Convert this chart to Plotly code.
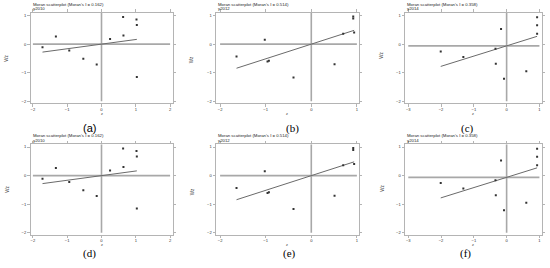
import plotly.graph_objects as go

W, H = 550, 268

# ---- data ----
years = ["y2010", "y2012", "y2014"]
morans_i = [0.162, 0.514, 0.358]

z_2010 = [0.63, 1.02, 1.03, 0.64, 0.25, -1.33, -1.72, -0.94, -0.53, -0.14, 1.03]
wz_2010 = [0.95, 0.86, 0.67, 0.30, 0.18, 0.27, -0.11, -0.22, -0.51, -0.71, -1.15]

z_2012 = [0.92, 0.92, 0.70, 0.94, -1.02, -1.64, -0.96, -0.93, 0.51, -0.39]
wz_2012 = [0.97, 0.90, 0.36, 0.41, 0.15, -0.43, -0.61, -0.58, -0.70, -1.17]

z_2014 = [0.93, 0.93, 0.93, -0.17, -2.01, -1.32, -0.34, -0.33, 0.60, -0.08]
wz_2014 = [0.94, 0.66, 0.36, 0.53, -0.26, -0.45, -0.16, -0.69, -0.95, -1.21]

mean_z = [0.0, 0.0, 0.0]
mean_wz = [0.0, 0.0, -0.06]

x_ticks = [[-2, -1, 0, 1, 2], [-2, -1, 0, 1], [-3, -2, -1, 0, 1]]
y_ticks = [-2, -1, 0, 1]
panel_labels = ["(a)", "(b)", "(c)", "(d)", "(e)", "(f)"]

# ---- layout geometry (pixels) ----
zs = [z_2010, z_2012, z_2014]
wzs = [wz_2010, wz_2012, wz_2014]
x_ranges = [[-2.07, 2.07], [-2.09, 1.04], [-3.1, 1.07]]
y_range = [-2.07, 1.1]
col_px = [(30.5, 172.5), (216, 358.7), (405, 541.7)]
row_px = [(12.7, 103.3), (144.2, 234.8)]
wz_label_pos = [[(6.7, 58), (192.3, 60), (381.7, 55)], [(6.7, 189), (192.3, 192), (381.7, 188)]]
lab_pos = [[(89, 128), (292, 128.2), (467, 128.2)], [(89.3, 253.6), (289, 253.6), (465, 253.6)]]

def px(x):
    return x / W

def py(y):
    return 1 - y / H

fig = go.Figure()
annotations = []
gray_ax = "#b4b4b4"
ref_col = "#a8a8a8"
txt_col = "#333333"

for r in range(2):
    for c in range(3):
        k = r * 3 + c + 1
        xa = "x" if k == 1 else f"x{k}"
        ya = "y" if k == 1 else f"y{k}"
        xr = x_ranges[c]
        z, wz = zs[c], wzs[c]
        # reference lines
        fig.add_trace(go.Scatter(x=[x_ticks[c][0], x_ticks[c][-1]], y=[mean_wz[c]] * 2,
                                 mode="lines", line=dict(color=ref_col, width=1.6),
                                 xaxis=xa, yaxis=ya, showlegend=False, hoverinfo="skip"))
        fig.add_trace(go.Scatter(x=[mean_z[c]] * 2, y=[y_ticks[0], y_range[1]],
                                 mode="lines", line=dict(color=ref_col, width=1.6),
                                 xaxis=xa, yaxis=ya, showlegend=False, hoverinfo="skip"))
        # fitted line
        x0, x1 = min(z), max(z)
        I = morans_i[c]
        fig.add_trace(go.Scatter(x=[x0, x1],
                                 y=[mean_wz[c] + I * (x0 - mean_z[c]), mean_wz[c] + I * (x1 - mean_z[c])],
                                 mode="lines", line=dict(color="#6a6a6a", width=1),
                                 xaxis=xa, yaxis=ya, showlegend=False, hoverinfo="skip"))
        # points
        fig.add_trace(go.Scatter(x=z, y=wz, mode="markers",
                                 marker=dict(color="#333333", size=2, symbol="square"),
                                 xaxis=xa, yaxis=ya, showlegend=False))
        xl, xrp = col_px[c]
        yt, yb = row_px[r]
        axis_common = dict(showgrid=False, zeroline=False, showline=True, linecolor=gray_ax,
                           linewidth=1, mirror="ticks", ticks="outside", ticklen=2.5,
                           tickcolor=gray_ax, tickwidth=1,
                           tickfont=dict(size=4.1, color=txt_col, family="Liberation Sans"))
        fig.layout[("xaxis" if k == 1 else f"xaxis{k}")] = dict(
            domain=[px(xl), px(xrp)], range=xr, anchor=ya, tickvals=x_ticks[c],
            ticklabelstandoff=-1, **axis_common)
        fig.layout[("yaxis" if k == 1 else f"yaxis{k}")] = dict(
            domain=[py(yb), py(yt)], range=y_range, anchor=xa, tickvals=y_ticks, **axis_common)
        # titles
        annotations.append(dict(text=f"Moran scatterplot (Moran's I = {morans_i[c]:.3f})",
                                x=px(xl), y=py(yt - 8.7), xref="paper", yref="paper",
                                xanchor="left", yanchor="middle", showarrow=False,
                                font=dict(size=4.3, color="#222222", family="Liberation Sans")))
        annotations.append(dict(text=years[c],
                                x=px(xl), y=py(yt - 3.9), xref="paper", yref="paper",
                                xanchor="left", yanchor="middle", showarrow=False,
                                font=dict(size=4.3, color="#222222", family="Liberation Sans")))
        # axis labels
        wx, wy = wz_label_pos[r][c]
        annotations.append(dict(text="Wz", x=px(wx), y=py(wy), xref="paper", yref="paper",
                                textangle=-90, showarrow=False, xanchor="center", yanchor="middle",
                                font=dict(size=4.5, color=txt_col, family="Liberation Sans")))
        annotations.append(dict(text="z", x=px((xl + xrp) / 2), y=py(yb + 10.2), xref="paper",
                                yref="paper", showarrow=False, xanchor="center", yanchor="middle",
                                font=dict(size=3.8, color=txt_col, family="Liberation Sans")))
        lx, ly = lab_pos[r][c]
        annotations.append(dict(text=panel_labels[k - 1], x=px(lx), y=py(ly), xref="paper",
                                yref="paper", showarrow=False, xanchor="center", yanchor="middle",
                                font=dict(size=11, color="#000000",
                                          family="Liberation Sans" if k == 1 else "Liberation Serif")))

fig.update_layout(width=W, height=H, margin=dict(l=0, r=0, t=0, b=0),
                  paper_bgcolor="white", plot_bgcolor="white",
                  annotations=annotations, showlegend=False)

fig.write_html("out.html", config={"displayModeBar": False},
               post_script="document.body.style.margin='0';document.body.style.padding='0';")
